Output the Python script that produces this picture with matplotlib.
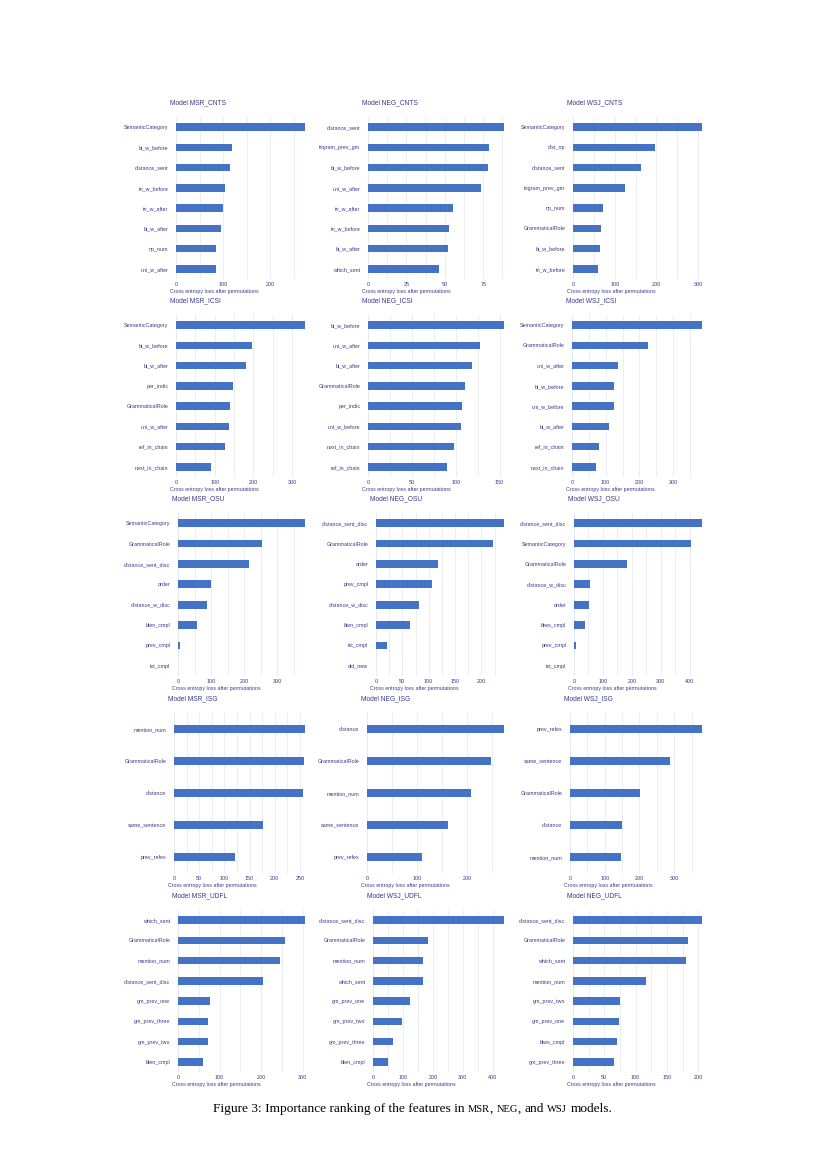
import matplotlib
matplotlib.use("Agg")
import matplotlib.pyplot as plt

# feature importance per model (cross entropy loss after permutations)
msr_cnts_feats = ["SemanticCategory", "bi_w_before", "distance_sent", "tri_w_before",
                  "tri_w_after", "bi_w_after", "np_num", "uni_w_after"]
msr_cnts_vals = [274, 120, 115, 105, 99, 96, 86, 84]

neg_cnts_feats = ["distance_sent", "trigram_prev_gm", "bi_w_before", "uni_w_after",
                  "tri_w_after", "tri_w_before", "bi_w_after", "which_sent"]
neg_cnts_vals = [88.5, 78.5, 78, 73.5, 55, 53, 52, 46]

wsj_cnts_feats = ["SemanticCategory", "dist_np", "distance_sent", "trigram_prev_gm",
                  "np_num", "GrammaticalRole", "bi_w_before", "tri_w_before"]
wsj_cnts_vals = [309, 197, 164, 125, 72, 66, 65, 61]

msr_icsi_feats = ["SemanticCategory", "bi_w_before", "bi_w_after", "per_indic",
                  "GrammaticalRole", "uni_w_after", "ref_in_chain", "next_in_chain"]
msr_icsi_vals = [333, 197, 181, 147, 140, 136, 126, 91]

neg_icsi_feats = ["bi_w_before", "uni_w_after", "bi_w_after", "GrammaticalRole",
                  "per_indic", "uni_w_before", "next_in_chain", "ref_in_chain"]
neg_icsi_vals = [155, 128, 119, 110.5, 107, 105.5, 98.5, 90]

wsj_icsi_feats = ["SemanticCategory", "GrammaticalRole", "uni_w_after", "bi_w_before",
                  "uni_w_before", "bi_w_after", "ref_in_chain", "next_in_chain"]
wsj_icsi_vals = [386, 226, 138, 126, 124, 110, 81, 71]

msr_osu_feats = ["SemanticCategory", "GrammaticalRole", "distance_sent_disc", "order",
                 "distance_w_disc", "blen_cmpl", "prev_cmpl", "txt_cmpl"]
msr_osu_vals = [383, 252, 214, 101, 86, 58, 7, 1]

neg_osu_feats = ["distance_sent_disc", "GrammaticalRole", "order", "prev_cmpl",
                 "distance_w_disc", "blen_cmpl", "txt_cmpl", "old_new"]
neg_osu_vals = [243, 223, 117, 106, 81, 64, 20, 0.3]

wsj_osu_feats = ["distance_sent_disc", "SemanticCategory", "GrammaticalRole", "distance_w_disc",
                 "order", "blws_cmpl", "prev_cmpl", "txt_cmpl"]
wsj_osu_vals = [442, 405, 184, 54, 52, 38, 8, 0.3]

msr_isg_feats = ["mention_num", "GrammaticalRole", "distance", "same_sentence", "prev_refex"]
msr_isg_vals = [260, 259, 257, 177, 121]

neg_isg_feats = ["distance", "GrammaticalRole", "mention_num", "same_sentence", "prev_refex"]
neg_isg_vals = [273, 248, 207, 162, 110]

wsj_isg_feats = ["prev_refex", "same_sentence", "GrammaticalRole", "distance", "mention_num"]
wsj_isg_vals = [380, 287, 202, 151, 148]

msr_udfl_feats = ["which_sent", "GrammaticalRole", "mention_num", "distance_sent_disc",
                  "gm_prev_one", "gm_prev_three", "gm_prev_two", "blen_cmpl"]
msr_udfl_vals = [305, 258, 244, 204, 76, 73, 71, 60]

wsj_udfl_feats = ["distance_sent_disc", "GrammaticalRole", "mention_num", "which_sent",
                  "gm_prev_one", "gm_prev_two", "gm_prev_three", "blen_cmpl"]
wsj_udfl_vals = [437, 183, 168, 167, 122, 98, 68, 49]

neg_udfl_feats = ["distance_sent_disc", "GrammaticalRole", "which_sent", "mention_num",
                  "gm_prev_two", "gm_prev_one", "blws_cmpl", "gm_prev_three"]
neg_udfl_vals = [206, 184, 180, 117, 75, 73, 71, 65]

W, H = 827, 1169
BAR = "#4472c4"
TXT = "#3a3a8c"
GRID = "#e6eaf2"
SANS = "Liberation Sans"

fig = plt.figure(figsize=(W / 100, H / 100), dpi=100)

# rows: (top, bottom) of the plotting area in pixels
rows = [(117, 279), (315, 477), (513, 676), (713, 873), (910, 1072)]

# (title, feats, vals, tick step, x0, x1, row)
panels = [
    ("Model MSR_CNTS", msr_cnts_feats, msr_cnts_vals, 100, 176, 305, 0),
    ("Model NEG_CNTS", neg_cnts_feats, neg_cnts_vals, 25, 368, 504, 0),
    ("Model WSJ_CNTS", wsj_cnts_feats, wsj_cnts_vals, 100, 573, 702, 0),
    ("Model MSR_ICSI", msr_icsi_feats, msr_icsi_vals, 100, 176, 305, 1),
    ("Model NEG_ICSI", neg_icsi_feats, neg_icsi_vals, 50, 368, 504, 1),
    ("Model WSJ_ICSI", wsj_icsi_feats, wsj_icsi_vals, 100, 572, 702, 1),
    ("Model MSR_OSU", msr_osu_feats, msr_osu_vals, 100, 178, 305, 2),
    ("Model NEG_OSU", neg_osu_feats, neg_osu_vals, 50, 376, 504, 2),
    ("Model WSJ_OSU", wsj_osu_feats, wsj_osu_vals, 100, 574, 702, 2),
    ("Model MSR_ISG", msr_isg_feats, msr_isg_vals, 50, 174, 305, 3),
    ("Model NEG_ISG", neg_isg_feats, neg_isg_vals, 100, 367, 504, 3),
    ("Model WSJ_ISG", wsj_isg_feats, wsj_isg_vals, 100, 570, 702, 3),
    ("Model MSR_UDFL", msr_udfl_feats, msr_udfl_vals, 100, 178, 305, 4),
    ("Model WSJ_UDFL", wsj_udfl_feats, wsj_udfl_vals, 100, 373, 504, 4),
    ("Model NEG_UDFL", neg_udfl_feats, neg_udfl_vals, 50, 573, 702, 4),
]

for title, feats, vals, step, x0, x1, r in panels:
    top, bot = rows[r]
    ax = fig.add_axes([x0 / W, 1 - bot / H, (x1 - x0) / W, (bot - top) / H])
    n = len(feats)
    bh = 0.38 if n > 5 else 0.26
    ax.barh(range(n), vals, height=bh, color=BAR, zorder=3)
    vmax = max(vals)
    ticks = [t * step for t in range(int(vmax // step) + 1)]
    ax.set_xticks(ticks)
    ax.set_xticks([t + step / 2 for t in ticks if t + step / 2 < vmax], minor=True)
    ax.set_yticks(range(n))
    ax.set_yticklabels(feats)
    ax.set_ylim(n - 0.5, -0.5)
    ax.set_xlim(0, vmax)
    ax.grid(axis="x", which="both", color=GRID, lw=0.6, zorder=0)
    ax.axvline(0, color="#d8dde8", lw=0.6, zorder=1)
    for s in ax.spines.values():
        s.set_visible(False)
    ax.tick_params(which="both", length=0, colors=TXT, labelsize=3.9)
    ax.tick_params(axis="y", pad=5.5)
    ax.tick_params(axis="x", pad=2.5)
    for lab in ax.get_xticklabels() + ax.get_yticklabels():
        lab.set_family(SANS)
    fig.text((x0 - 6) / W, 1 - (top - 14) / H, title, fontsize=4.8, color=TXT,
             family=SANS, va="center", ha="left")
    fig.text((x0 - 6) / W, 1 - (bot + 12.5) / H, "Cross entropy loss after permutations",
             fontsize=3.8, color=TXT, family=SANS, va="center", ha="left")

# caption with small caps for the model names
renderer = fig.canvas.get_renderer()
SERIF = "Liberation Serif"
big, small = 9.6, 7.6


def text_w(s, size):
    t = fig.text(0, 0, s, fontsize=size, family=SERIF)
    w = t.get_window_extent(renderer).width
    t.remove()
    return w


space = text_w("x x", big) - text_w("xx", big)
pieces = [("Figure 3: Importance ranking of the features in", big), (" ", big),
          ("MSR", small), (",", big), (" ", big), ("NEG", small), (",", big), (" ", big),
          ("and", big), (" ", big), ("WSJ", small), (" ", big), ("models.", big)]
widths = [space if s == " " else text_w(s, sz) for s, sz in pieces]
x = 412.5 - sum(widths) / 2
for (s, sz), w in zip(pieces, widths):
    if s != " ":
        fig.text(x / W, 1 - 1112 / H, s, fontsize=sz, family=SERIF, color="black",
                 va="baseline", ha="left")
    x += w

fig.savefig("out.png", dpi=100)
